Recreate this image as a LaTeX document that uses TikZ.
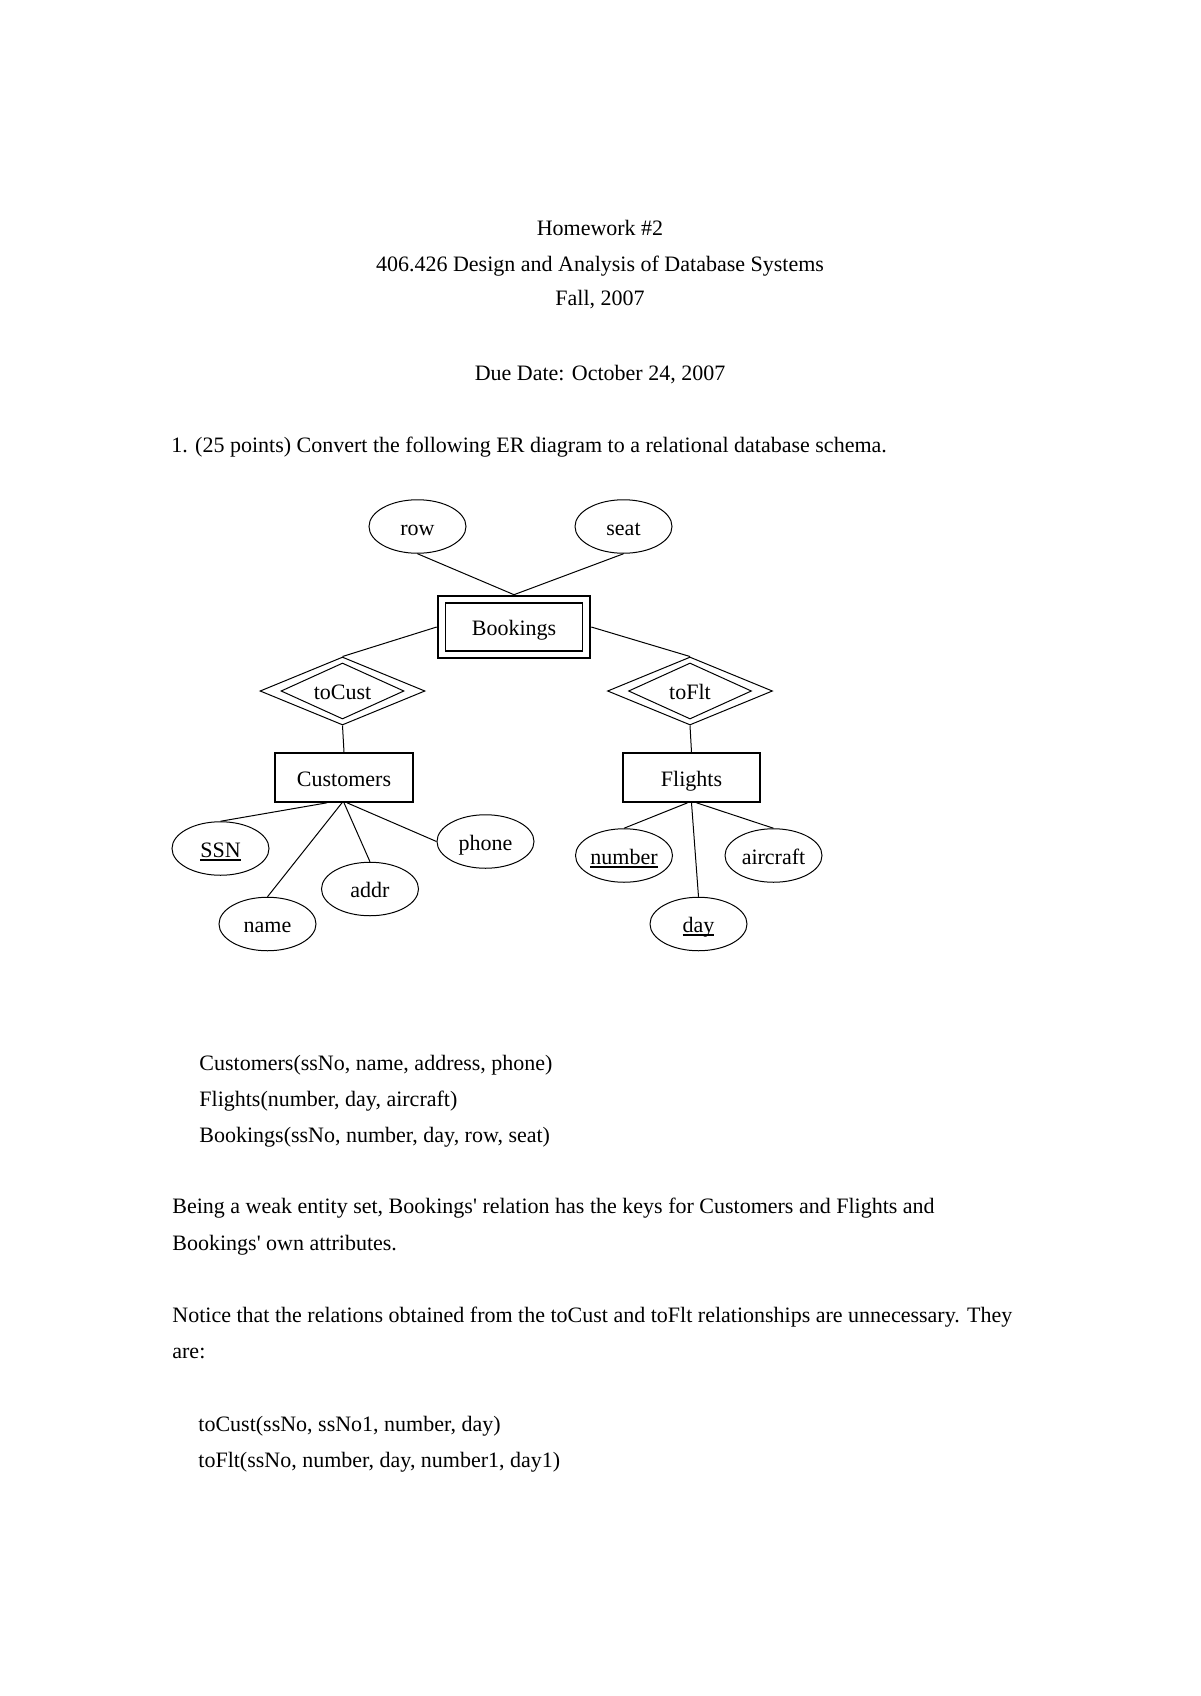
\documentclass[tikz,border=0pt]{standalone}
\usepackage{fontspec}
\setmainfont{Liberation Serif}
\usetikzlibrary{shapes.geometric}
\newcommand{\keyattr}[1]{\setbox0\hbox{#1}\rlap{\rule[-1.8pt]{\wd0}{0.9pt}}\box0}
\begin{document}
\begin{tikzpicture}[x=0.5pt,y=-0.5pt,
  every node/.style={font=\fontsize{11}{13}\selectfont},
  lbl/.style={text height=8.5pt, text depth=0pt},
  attr/.style={draw, ellipse, lbl, line width=0.5pt, minimum width=48.5pt, minimum height=26.75pt, inner sep=0pt},
  entity/.style={draw, rectangle, lbl, line width=0.8pt, minimum width=69pt, minimum height=24.5pt, inner sep=0pt},
  weakout/.style={draw, rectangle, line width=1.3pt, minimum width=76pt, minimum height=31pt, inner sep=0pt},
  weakin/.style={draw, rectangle, lbl, line width=0.7pt, minimum width=68.5pt, minimum height=24pt, inner sep=0pt},
  relout/.style={draw, diamond, line width=0.5pt, minimum width=82.5pt, minimum height=34pt, aspect=2.4, inner sep=0pt},
  relin/.style={draw, diamond, lbl, line width=0.5pt, minimum width=61.5pt, minimum height=28pt, aspect=2.2, inner sep=0pt},
  conn/.style={line width=0.5pt},
  txt/.style={inner sep=0pt, anchor=base},
  txtl/.style={inner sep=0pt, anchor=base west}
]
\fill[white] (0,0) rectangle (1200,1696);
\useasboundingbox (0,0) rectangle (1200,1696);

% header text
\node[txt] (t1) at (600,235) {Homework \#2};
\node[txt] (t2) at (600,271.5) {406.426 Design and Analysis of Database Systems};
\node[txt] (t3) at (600,306) {Fall, 2007};
\node[txt] (t4) at (600,380) {Due Date: October 24, 2007};
\node[txtl] (t5) at (171,452.5) {1. (25 points) Convert the following ER diagram to a relational database schema.};

% ER diagram
\node[attr] (row) at (417.5,526.5) {row};
\node[attr] (seat) at (623.5,526.5) {seat};
\node[weakout] (bookings) at (514,627) {};
\node[weakin] (bookingsin) at (514,627) {Bookings};
\node[relout] (tocust) at (342.5,691) {};
\node[relin] (tocustin) at (342.5,691) {toCust};
\node[relout] (toflt) at (690,691) {};
\node[relin] (tofltin) at (690,691) {toFlt};
\node[entity] (customers) at (344,777.5) {Customers};
\node[entity, minimum width=68.5pt] (flights) at (691.5,777.5) {Flights};
\node[attr] (ssn) at (220.5,848.5) {\keyattr{SSN}};
\node[attr] (name) at (267.5,924) {name};
\node[attr] (addr) at (370,889) {addr};
\node[attr] (phone) at (485.5,841.5) {phone};
\node[attr] (number) at (624,855.5) {\keyattr{number}};
\node[attr] (aircraft) at (773.5,855.5) {aircraft};
\node[attr] (day) at (698.5,924) {\keyattr{day}};

\draw[conn] (row.south) -- (bookings.north);
\draw[conn] (seat.south) -- (bookings.north);
\draw[conn] (bookings.west) -- (tocust.north);
\draw[conn] (bookings.east) -- (toflt.north);
\draw[conn] (tocust.south) -- (customers.north);
\draw[conn] (toflt.south) -- (flights.north);
\draw[conn] (ssn.north) -- ([xshift=-8.5pt]customers.south);
\draw[conn] (name.north) -- ([xshift=-1pt]customers.south);
\draw[conn] (addr.north) -- (customers.south);
\draw[conn] (phone.west) -- ([xshift=1.5pt]customers.south);
\draw[conn] (number.north) -- ([xshift=-2pt]flights.south);
\draw[conn] (aircraft.north) -- ([xshift=2.5pt]flights.south);
\draw[conn] (day.north) -- (flights.south);

% schema text
\node[txtl] (s1) at (199,1070) {Customers(ssNo, name, address, phone)};
\node[txtl] (s2) at (199,1106) {Flights(number, day, aircraft)};
\node[txtl] (s3) at (199,1142.5) {Bookings(ssNo, number, day, row, seat)};
\node[txtl] (p1) at (172,1213) {Being a weak entity set, Bookings\textquotesingle\ relation has the keys for Customers and Flights and};
\node[txtl] (p2) at (172,1250) {Bookings\textquotesingle\ own attributes.};
\node[txtl] (p3) at (172,1322.5) {Notice that the relations obtained from the toCust and toFlt relationships are unnecessary. They};
\node[txtl] (p4) at (172,1358) {are:};
\node[txtl] (r1) at (198,1431.5) {toCust(ssNo, ssNo1, number, day)};
\node[txtl] (r2) at (198,1467) {toFlt(ssNo, number, day, number1, day1)};
\end{tikzpicture}
\end{document}
